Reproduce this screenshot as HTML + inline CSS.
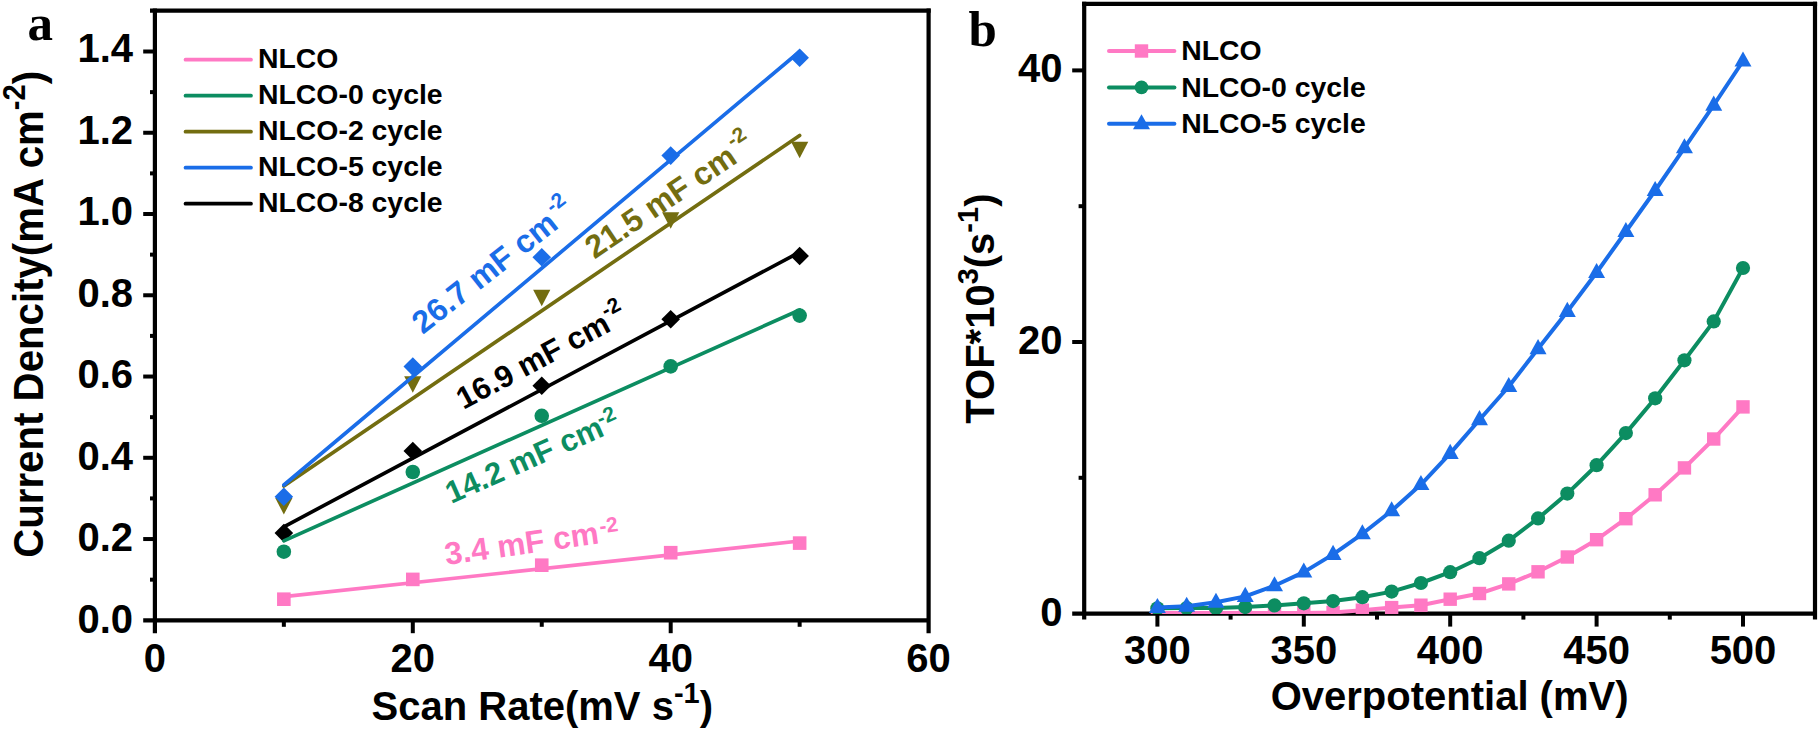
<!DOCTYPE html>
<html lang="en"><head><meta charset="utf-8"><title>ECSA and TOF figure</title>
<style>html,body{margin:0;padding:0;background:#fff}svg{display:block}</style></head><body>
<svg width="1820" height="732" viewBox="0 0 1820 732">
<rect width="1820" height="732" fill="#fff"/>
<line x1="154.90" y1="8.60" x2="154.90" y2="633.20" stroke="#000000" stroke-width="4.2" stroke-linecap="butt"/>
<line x1="928.60" y1="8.60" x2="928.60" y2="633.20" stroke="#000000" stroke-width="4.2" stroke-linecap="butt"/>
<line x1="150.00" y1="10.70" x2="930.70" y2="10.70" stroke="#000000" stroke-width="4.2" stroke-linecap="butt"/>
<line x1="143.20" y1="620.30" x2="928.60" y2="620.30" stroke="#000000" stroke-width="4.2" stroke-linecap="butt"/>
<text x="133.00" y="632.70" font-family='"Liberation Sans", Arial, Helvetica, sans-serif' font-size="40" font-weight="bold" text-anchor="end" fill="#000000" >0.0</text>
<line x1="150.00" y1="579.67" x2="154.90" y2="579.67" stroke="#000000" stroke-width="4" stroke-linecap="butt"/>
<line x1="143.20" y1="539.04" x2="154.90" y2="539.04" stroke="#000000" stroke-width="4" stroke-linecap="butt"/>
<text x="133.00" y="551.18" font-family='"Liberation Sans", Arial, Helvetica, sans-serif' font-size="40" font-weight="bold" text-anchor="end" fill="#000000" >0.2</text>
<line x1="150.00" y1="498.41" x2="154.90" y2="498.41" stroke="#000000" stroke-width="4" stroke-linecap="butt"/>
<line x1="143.20" y1="457.79" x2="154.90" y2="457.79" stroke="#000000" stroke-width="4" stroke-linecap="butt"/>
<text x="133.00" y="469.66" font-family='"Liberation Sans", Arial, Helvetica, sans-serif' font-size="40" font-weight="bold" text-anchor="end" fill="#000000" >0.4</text>
<line x1="150.00" y1="417.16" x2="154.90" y2="417.16" stroke="#000000" stroke-width="4" stroke-linecap="butt"/>
<line x1="143.20" y1="376.53" x2="154.90" y2="376.53" stroke="#000000" stroke-width="4" stroke-linecap="butt"/>
<text x="133.00" y="388.14" font-family='"Liberation Sans", Arial, Helvetica, sans-serif' font-size="40" font-weight="bold" text-anchor="end" fill="#000000" >0.6</text>
<line x1="150.00" y1="335.90" x2="154.90" y2="335.90" stroke="#000000" stroke-width="4" stroke-linecap="butt"/>
<line x1="143.20" y1="295.27" x2="154.90" y2="295.27" stroke="#000000" stroke-width="4" stroke-linecap="butt"/>
<text x="133.00" y="306.62" font-family='"Liberation Sans", Arial, Helvetica, sans-serif' font-size="40" font-weight="bold" text-anchor="end" fill="#000000" >0.8</text>
<line x1="150.00" y1="254.64" x2="154.90" y2="254.64" stroke="#000000" stroke-width="4" stroke-linecap="butt"/>
<line x1="143.20" y1="214.01" x2="154.90" y2="214.01" stroke="#000000" stroke-width="4" stroke-linecap="butt"/>
<text x="133.00" y="225.10" font-family='"Liberation Sans", Arial, Helvetica, sans-serif' font-size="40" font-weight="bold" text-anchor="end" fill="#000000" >1.0</text>
<line x1="150.00" y1="173.39" x2="154.90" y2="173.39" stroke="#000000" stroke-width="4" stroke-linecap="butt"/>
<line x1="143.20" y1="132.76" x2="154.90" y2="132.76" stroke="#000000" stroke-width="4" stroke-linecap="butt"/>
<text x="133.00" y="143.58" font-family='"Liberation Sans", Arial, Helvetica, sans-serif' font-size="40" font-weight="bold" text-anchor="end" fill="#000000" >1.2</text>
<line x1="150.00" y1="92.13" x2="154.90" y2="92.13" stroke="#000000" stroke-width="4" stroke-linecap="butt"/>
<line x1="143.20" y1="51.50" x2="154.90" y2="51.50" stroke="#000000" stroke-width="4" stroke-linecap="butt"/>
<text x="133.00" y="62.06" font-family='"Liberation Sans", Arial, Helvetica, sans-serif' font-size="40" font-weight="bold" text-anchor="end" fill="#000000" >1.4</text>
<text x="154.90" y="671.70" font-family='"Liberation Sans", Arial, Helvetica, sans-serif' font-size="40" font-weight="bold" text-anchor="middle" fill="#000000" >0</text>
<line x1="412.80" y1="620.30" x2="412.80" y2="633.20" stroke="#000000" stroke-width="4" stroke-linecap="butt"/>
<text x="412.80" y="671.70" font-family='"Liberation Sans", Arial, Helvetica, sans-serif' font-size="40" font-weight="bold" text-anchor="middle" fill="#000000" >20</text>
<line x1="670.70" y1="620.30" x2="670.70" y2="633.20" stroke="#000000" stroke-width="4" stroke-linecap="butt"/>
<text x="670.70" y="671.70" font-family='"Liberation Sans", Arial, Helvetica, sans-serif' font-size="40" font-weight="bold" text-anchor="middle" fill="#000000" >40</text>
<text x="928.60" y="671.70" font-family='"Liberation Sans", Arial, Helvetica, sans-serif' font-size="40" font-weight="bold" text-anchor="middle" fill="#000000" >60</text>
<line x1="283.85" y1="620.30" x2="283.85" y2="626.80" stroke="#000000" stroke-width="4" stroke-linecap="butt"/>
<line x1="541.75" y1="620.30" x2="541.75" y2="626.80" stroke="#000000" stroke-width="4" stroke-linecap="butt"/>
<line x1="799.65" y1="620.30" x2="799.65" y2="626.80" stroke="#000000" stroke-width="4" stroke-linecap="butt"/>
<text x="542.30" y="719.70" font-family='"Liberation Sans", Arial, Helvetica, sans-serif' font-size="40" font-weight="bold" text-anchor="middle" fill="#000000" >Scan Rate(mV s<tspan font-size="29" dy="-16.5">-1</tspan><tspan dy="16.5">)</tspan></text>
<g transform="translate(42.6,314.3) rotate(-90) scale(1.006,1.07)">
<text x="0.00" y="0.00" font-family='"Liberation Sans", Arial, Helvetica, sans-serif' font-size="40" font-weight="bold" text-anchor="middle" fill="#000000" >Current Dencity(mA cm<tspan font-size="29" dy="-16.5">-2</tspan><tspan dy="16.5">)</tspan></text>
</g>
<text x="40.20" y="40.30" font-family='"Liberation Serif", "Times New Roman", Times, serif' font-size="51" font-weight="bold" text-anchor="middle" fill="#000000" >a</text>
<rect x="277.05" y="592.40" width="13.6" height="13.6" fill="#FF79C4"/>
<rect x="406.00" y="572.60" width="13.6" height="13.6" fill="#FF79C4"/>
<rect x="534.95" y="558.40" width="13.6" height="13.6" fill="#FF79C4"/>
<rect x="663.90" y="545.90" width="13.6" height="13.6" fill="#FF79C4"/>
<rect x="792.85" y="536.30" width="13.6" height="13.6" fill="#FF79C4"/>
<circle cx="283.85" cy="551.70" r="7.30" fill="#0C8D61"/>
<circle cx="412.80" cy="472.00" r="7.30" fill="#0C8D61"/>
<circle cx="541.75" cy="415.80" r="7.30" fill="#0C8D61"/>
<circle cx="670.70" cy="366.40" r="7.30" fill="#0C8D61"/>
<circle cx="799.65" cy="315.60" r="7.30" fill="#0C8D61"/>
<polygon points="275.25,498.05 292.45,498.05 283.85,514.55" fill="#736D10"/>
<polygon points="404.20,376.15 421.40,376.15 412.80,392.65" fill="#736D10"/>
<polygon points="533.15,289.75 550.35,289.75 541.75,306.25" fill="#736D10"/>
<polygon points="662.10,212.35 679.30,212.35 670.70,228.85" fill="#736D10"/>
<polygon points="791.05,141.75 808.25,141.75 799.65,158.25" fill="#736D10"/>
<polygon points="283.85,487.40 293.15,496.70 283.85,506.00 274.55,496.70" fill="#1A6DE8"/>
<polygon points="412.80,357.30 422.10,366.60 412.80,375.90 403.50,366.60" fill="#1A6DE8"/>
<polygon points="541.75,248.00 551.05,257.30 541.75,266.60 532.45,257.30" fill="#1A6DE8"/>
<polygon points="670.70,146.30 680.00,155.60 670.70,164.90 661.40,155.60" fill="#1A6DE8"/>
<polygon points="799.65,48.40 808.95,57.70 799.65,67.00 790.35,57.70" fill="#1A6DE8"/>
<polygon points="283.85,523.80 293.15,533.10 283.85,542.40 274.55,533.10" fill="#000000"/>
<polygon points="412.80,441.70 422.10,451.00 412.80,460.30 403.50,451.00" fill="#000000"/>
<polygon points="541.75,376.40 551.05,385.70 541.75,395.00 532.45,385.70" fill="#000000"/>
<polygon points="670.70,309.90 680.00,319.20 670.70,328.50 661.40,319.20" fill="#000000"/>
<polygon points="799.65,246.70 808.95,256.00 799.65,265.30 790.35,256.00" fill="#000000"/>
<line x1="283.85" y1="596.60" x2="799.65" y2="541.00" stroke="#FF79C4" stroke-width="3.65" stroke-linecap="round"/>
<line x1="283.85" y1="540.80" x2="799.65" y2="310.00" stroke="#0C8D61" stroke-width="3.65" stroke-linecap="round"/>
<line x1="283.85" y1="486.00" x2="799.65" y2="135.50" stroke="#736D10" stroke-width="3.65" stroke-linecap="round"/>
<line x1="283.85" y1="485.00" x2="799.65" y2="51.50" stroke="#1A6DE8" stroke-width="3.65" stroke-linecap="round"/>
<line x1="283.85" y1="526.80" x2="799.65" y2="252.20" stroke="#000000" stroke-width="3.65" stroke-linecap="round"/>
<g transform="translate(422.8,335.0) rotate(-38.2)">
<text x="0.00" y="0.00" font-family='"Liberation Sans", Arial, Helvetica, sans-serif' font-size="32" font-weight="bold" text-anchor="start" fill="#1A6DE8" >26.7 mF cm<tspan dx="2.5" dy="-15" font-size="21">-2</tspan></text>
</g>
<g transform="translate(594.5,259.5) rotate(-34.1)">
<text x="0.00" y="0.00" font-family='"Liberation Sans", Arial, Helvetica, sans-serif' font-size="32" font-weight="bold" text-anchor="start" fill="#736D10" >21.5 mF cm<tspan dx="2.5" dy="-15" font-size="21">-2</tspan></text>
</g>
<g transform="translate(463.5,410.0) rotate(-28.2)">
<text x="0.00" y="0.00" font-family='"Liberation Sans", Arial, Helvetica, sans-serif' font-size="31" font-weight="bold" text-anchor="start" fill="#000000" >16.9 mF cm<tspan dx="0" dy="-14" font-size="21">-2</tspan></text>
</g>
<g transform="translate(451.3,504.0) rotate(-24.0)">
<text x="0.00" y="0.00" font-family='"Liberation Sans", Arial, Helvetica, sans-serif' font-size="31" font-weight="bold" text-anchor="start" fill="#0C8D61" >14.2 mF cm<tspan dx="-1" dy="-10.6" font-size="21">-2</tspan></text>
</g>
<g transform="translate(446.3,565.0) rotate(-8.0)">
<text x="0.00" y="0.00" font-family='"Liberation Sans", Arial, Helvetica, sans-serif' font-size="31.7" font-weight="bold" text-anchor="start" fill="#FF79C4" >3.4 mF cm<tspan dx="1.8" dy="-9.8" font-size="21">-2</tspan></text>
</g>
<line x1="185.50" y1="59.70" x2="251.00" y2="59.70" stroke="#FF79C4" stroke-width="3.7" stroke-linecap="round"/>
<text x="258.00" y="67.60" font-family='"Liberation Sans", Arial, Helvetica, sans-serif' font-size="28.4" font-weight="bold" text-anchor="start" fill="#000000" >NLCO</text>
<line x1="185.50" y1="95.70" x2="251.00" y2="95.70" stroke="#0C8D61" stroke-width="3.7" stroke-linecap="round"/>
<text x="258.00" y="103.60" font-family='"Liberation Sans", Arial, Helvetica, sans-serif' font-size="28.4" font-weight="bold" text-anchor="start" fill="#000000" >NLCO-0 cycle</text>
<line x1="185.50" y1="131.70" x2="251.00" y2="131.70" stroke="#736D10" stroke-width="3.7" stroke-linecap="round"/>
<text x="258.00" y="139.60" font-family='"Liberation Sans", Arial, Helvetica, sans-serif' font-size="28.4" font-weight="bold" text-anchor="start" fill="#000000" >NLCO-2 cycle</text>
<line x1="185.50" y1="167.70" x2="251.00" y2="167.70" stroke="#1A6DE8" stroke-width="3.7" stroke-linecap="round"/>
<text x="258.00" y="175.60" font-family='"Liberation Sans", Arial, Helvetica, sans-serif' font-size="28.4" font-weight="bold" text-anchor="start" fill="#000000" >NLCO-5 cycle</text>
<line x1="185.50" y1="203.70" x2="251.00" y2="203.70" stroke="#000000" stroke-width="3.7" stroke-linecap="round"/>
<text x="258.00" y="211.60" font-family='"Liberation Sans", Arial, Helvetica, sans-serif' font-size="28.4" font-weight="bold" text-anchor="start" fill="#000000" >NLCO-8 cycle</text>
<line x1="1084.20" y1="1.70" x2="1084.20" y2="619.60" stroke="#000000" stroke-width="4.2" stroke-linecap="butt"/>
<line x1="1815.00" y1="1.70" x2="1815.00" y2="619.60" stroke="#000000" stroke-width="4.2" stroke-linecap="butt"/>
<line x1="1082.10" y1="3.80" x2="1817.10" y2="3.80" stroke="#000000" stroke-width="4.2" stroke-linecap="butt"/>
<line x1="1072.20" y1="613.60" x2="1815.00" y2="613.60" stroke="#000000" stroke-width="4.2" stroke-linecap="butt"/>
<line x1="1072.20" y1="342.00" x2="1084.20" y2="342.00" stroke="#000000" stroke-width="4" stroke-linecap="butt"/>
<line x1="1072.20" y1="70.40" x2="1084.20" y2="70.40" stroke="#000000" stroke-width="4" stroke-linecap="butt"/>
<line x1="1078.60" y1="477.80" x2="1084.20" y2="477.80" stroke="#000000" stroke-width="4" stroke-linecap="butt"/>
<line x1="1078.60" y1="206.20" x2="1084.20" y2="206.20" stroke="#000000" stroke-width="4" stroke-linecap="butt"/>
<text x="1062.60" y="625.50" font-family='"Liberation Sans", Arial, Helvetica, sans-serif' font-size="40" font-weight="bold" text-anchor="end" fill="#000000" >0</text>
<text x="1062.60" y="353.90" font-family='"Liberation Sans", Arial, Helvetica, sans-serif' font-size="40" font-weight="bold" text-anchor="end" fill="#000000" >20</text>
<text x="1062.60" y="82.30" font-family='"Liberation Sans", Arial, Helvetica, sans-serif' font-size="40" font-weight="bold" text-anchor="end" fill="#000000" >40</text>
<line x1="1157.40" y1="613.60" x2="1157.40" y2="626.60" stroke="#000000" stroke-width="4" stroke-linecap="butt"/>
<text x="1157.40" y="663.80" font-family='"Liberation Sans", Arial, Helvetica, sans-serif' font-size="40" font-weight="bold" text-anchor="middle" fill="#000000" >300</text>
<line x1="1303.80" y1="613.60" x2="1303.80" y2="626.60" stroke="#000000" stroke-width="4" stroke-linecap="butt"/>
<text x="1303.80" y="663.80" font-family='"Liberation Sans", Arial, Helvetica, sans-serif' font-size="40" font-weight="bold" text-anchor="middle" fill="#000000" >350</text>
<line x1="1450.20" y1="613.60" x2="1450.20" y2="626.60" stroke="#000000" stroke-width="4" stroke-linecap="butt"/>
<text x="1450.20" y="663.80" font-family='"Liberation Sans", Arial, Helvetica, sans-serif' font-size="40" font-weight="bold" text-anchor="middle" fill="#000000" >400</text>
<line x1="1596.60" y1="613.60" x2="1596.60" y2="626.60" stroke="#000000" stroke-width="4" stroke-linecap="butt"/>
<text x="1596.60" y="663.80" font-family='"Liberation Sans", Arial, Helvetica, sans-serif' font-size="40" font-weight="bold" text-anchor="middle" fill="#000000" >450</text>
<line x1="1743.00" y1="613.60" x2="1743.00" y2="626.60" stroke="#000000" stroke-width="4" stroke-linecap="butt"/>
<text x="1743.00" y="663.80" font-family='"Liberation Sans", Arial, Helvetica, sans-serif' font-size="40" font-weight="bold" text-anchor="middle" fill="#000000" >500</text>
<line x1="1230.60" y1="613.60" x2="1230.60" y2="619.60" stroke="#000000" stroke-width="4" stroke-linecap="butt"/>
<line x1="1377.00" y1="613.60" x2="1377.00" y2="619.60" stroke="#000000" stroke-width="4" stroke-linecap="butt"/>
<line x1="1523.40" y1="613.60" x2="1523.40" y2="619.60" stroke="#000000" stroke-width="4" stroke-linecap="butt"/>
<line x1="1669.80" y1="613.60" x2="1669.80" y2="619.60" stroke="#000000" stroke-width="4" stroke-linecap="butt"/>
<text x="1449.60" y="710.00" font-family='"Liberation Sans", Arial, Helvetica, sans-serif' font-size="40" font-weight="bold" text-anchor="middle" fill="#000000" >Overpotential (mV)</text>
<g transform="translate(994.0,308.6) rotate(-90)">
<text x="0.00" y="0.00" font-family='"Liberation Sans", Arial, Helvetica, sans-serif' font-size="40" font-weight="bold" text-anchor="middle" fill="#000000" >TOF*10<tspan font-size="29" dy="-16.5">3</tspan><tspan dy="16.5">(s</tspan><tspan font-size="29" dy="-16.5">-1</tspan><tspan dy="16.5">)</tspan></text>
</g>
<text x="982.60" y="46.00" font-family='"Liberation Serif", "Times New Roman", Times, serif' font-size="51" font-weight="bold" text-anchor="middle" fill="#000000" >b</text>
<clipPath id="clipb"><rect x="1084.2" y="3.8" width="730.8" height="610.1"/></clipPath>
<g clip-path="url(#clipb)">
<polyline points="1157.40,612.90 1186.68,612.90 1215.96,612.90 1245.24,612.90 1274.52,612.90 1303.80,612.90 1333.08,612.50 1362.36,610.20 1391.64,607.60 1420.92,605.20 1450.20,599.20 1479.48,593.50 1508.76,583.90 1538.04,571.80 1567.32,557.00 1596.60,539.70 1625.88,518.70 1655.16,494.80 1684.44,467.90 1713.72,439.00 1743.00,406.90" fill="none" stroke="#FF79C4" stroke-width="4.0" stroke-linejoin="round" stroke-linecap="round"/>
<rect x="1150.70" y="606.20" width="13.4" height="13.4" fill="#FF79C4"/>
<rect x="1179.98" y="606.20" width="13.4" height="13.4" fill="#FF79C4"/>
<rect x="1209.26" y="606.20" width="13.4" height="13.4" fill="#FF79C4"/>
<rect x="1238.54" y="606.20" width="13.4" height="13.4" fill="#FF79C4"/>
<rect x="1267.82" y="606.20" width="13.4" height="13.4" fill="#FF79C4"/>
<rect x="1297.10" y="606.20" width="13.4" height="13.4" fill="#FF79C4"/>
<rect x="1326.38" y="605.80" width="13.4" height="13.4" fill="#FF79C4"/>
<rect x="1355.66" y="603.50" width="13.4" height="13.4" fill="#FF79C4"/>
<rect x="1384.94" y="600.90" width="13.4" height="13.4" fill="#FF79C4"/>
<rect x="1414.22" y="598.50" width="13.4" height="13.4" fill="#FF79C4"/>
<rect x="1443.50" y="592.50" width="13.4" height="13.4" fill="#FF79C4"/>
<rect x="1472.78" y="586.80" width="13.4" height="13.4" fill="#FF79C4"/>
<rect x="1502.06" y="577.20" width="13.4" height="13.4" fill="#FF79C4"/>
<rect x="1531.34" y="565.10" width="13.4" height="13.4" fill="#FF79C4"/>
<rect x="1560.62" y="550.30" width="13.4" height="13.4" fill="#FF79C4"/>
<rect x="1589.90" y="533.00" width="13.4" height="13.4" fill="#FF79C4"/>
<rect x="1619.18" y="512.00" width="13.4" height="13.4" fill="#FF79C4"/>
<rect x="1648.46" y="488.10" width="13.4" height="13.4" fill="#FF79C4"/>
<rect x="1677.74" y="461.20" width="13.4" height="13.4" fill="#FF79C4"/>
<rect x="1707.02" y="432.30" width="13.4" height="13.4" fill="#FF79C4"/>
<rect x="1736.30" y="400.20" width="13.4" height="13.4" fill="#FF79C4"/>
<polyline points="1157.40,608.30 1186.68,608.10 1215.96,607.90 1245.24,607.00 1274.52,605.40 1303.80,603.30 1333.08,601.10 1362.36,597.20 1391.64,591.60 1420.92,583.00 1450.20,572.20 1479.48,558.20 1508.76,540.70 1538.04,518.40 1567.32,493.60 1596.60,465.20 1625.88,433.10 1655.16,398.30 1684.44,360.30 1713.72,321.40 1743.00,268.00" fill="none" stroke="#0C8D61" stroke-width="4.0" stroke-linejoin="round" stroke-linecap="round"/>
<circle cx="1157.40" cy="608.30" r="7.10" fill="#0C8D61"/>
<circle cx="1186.68" cy="608.10" r="7.10" fill="#0C8D61"/>
<circle cx="1215.96" cy="607.90" r="7.10" fill="#0C8D61"/>
<circle cx="1245.24" cy="607.00" r="7.10" fill="#0C8D61"/>
<circle cx="1274.52" cy="605.40" r="7.10" fill="#0C8D61"/>
<circle cx="1303.80" cy="603.30" r="7.10" fill="#0C8D61"/>
<circle cx="1333.08" cy="601.10" r="7.10" fill="#0C8D61"/>
<circle cx="1362.36" cy="597.20" r="7.10" fill="#0C8D61"/>
<circle cx="1391.64" cy="591.60" r="7.10" fill="#0C8D61"/>
<circle cx="1420.92" cy="583.00" r="7.10" fill="#0C8D61"/>
<circle cx="1450.20" cy="572.20" r="7.10" fill="#0C8D61"/>
<circle cx="1479.48" cy="558.20" r="7.10" fill="#0C8D61"/>
<circle cx="1508.76" cy="540.70" r="7.10" fill="#0C8D61"/>
<circle cx="1538.04" cy="518.40" r="7.10" fill="#0C8D61"/>
<circle cx="1567.32" cy="493.60" r="7.10" fill="#0C8D61"/>
<circle cx="1596.60" cy="465.20" r="7.10" fill="#0C8D61"/>
<circle cx="1625.88" cy="433.10" r="7.10" fill="#0C8D61"/>
<circle cx="1655.16" cy="398.30" r="7.10" fill="#0C8D61"/>
<circle cx="1684.44" cy="360.30" r="7.10" fill="#0C8D61"/>
<circle cx="1713.72" cy="321.40" r="7.10" fill="#0C8D61"/>
<circle cx="1743.00" cy="268.00" r="7.10" fill="#0C8D61"/>
<polyline points="1157.40,607.60 1186.68,606.30 1215.96,602.30 1245.24,596.40 1274.52,585.80 1303.80,572.10 1333.08,554.40 1362.36,533.80 1391.64,510.80 1420.92,484.60 1450.20,453.40 1479.48,419.70 1508.76,386.50 1538.04,348.70 1567.32,311.40 1596.60,272.50 1625.88,231.50 1655.16,190.50 1684.44,147.80 1713.72,105.20 1743.00,61.00" fill="none" stroke="#1A6DE8" stroke-width="4.0" stroke-linejoin="round" stroke-linecap="round"/>
<polygon points="1157.40,598.00 1165.90,613.10 1148.90,613.10" fill="#1A6DE8"/>
<polygon points="1186.68,596.70 1195.18,611.80 1178.18,611.80" fill="#1A6DE8"/>
<polygon points="1215.96,592.70 1224.46,607.80 1207.46,607.80" fill="#1A6DE8"/>
<polygon points="1245.24,586.80 1253.74,601.90 1236.74,601.90" fill="#1A6DE8"/>
<polygon points="1274.52,576.20 1283.02,591.30 1266.02,591.30" fill="#1A6DE8"/>
<polygon points="1303.80,562.50 1312.30,577.60 1295.30,577.60" fill="#1A6DE8"/>
<polygon points="1333.08,544.80 1341.58,559.90 1324.58,559.90" fill="#1A6DE8"/>
<polygon points="1362.36,524.20 1370.86,539.30 1353.86,539.30" fill="#1A6DE8"/>
<polygon points="1391.64,501.20 1400.14,516.30 1383.14,516.30" fill="#1A6DE8"/>
<polygon points="1420.92,475.00 1429.42,490.10 1412.42,490.10" fill="#1A6DE8"/>
<polygon points="1450.20,443.80 1458.70,458.90 1441.70,458.90" fill="#1A6DE8"/>
<polygon points="1479.48,410.10 1487.98,425.20 1470.98,425.20" fill="#1A6DE8"/>
<polygon points="1508.76,376.90 1517.26,392.00 1500.26,392.00" fill="#1A6DE8"/>
<polygon points="1538.04,339.10 1546.54,354.20 1529.54,354.20" fill="#1A6DE8"/>
<polygon points="1567.32,301.80 1575.82,316.90 1558.82,316.90" fill="#1A6DE8"/>
<polygon points="1596.60,262.90 1605.10,278.00 1588.10,278.00" fill="#1A6DE8"/>
<polygon points="1625.88,221.90 1634.38,237.00 1617.38,237.00" fill="#1A6DE8"/>
<polygon points="1655.16,180.90 1663.66,196.00 1646.66,196.00" fill="#1A6DE8"/>
<polygon points="1684.44,138.20 1692.94,153.30 1675.94,153.30" fill="#1A6DE8"/>
<polygon points="1713.72,95.60 1722.22,110.70 1705.22,110.70" fill="#1A6DE8"/>
<polygon points="1743.00,51.40 1751.50,66.50 1734.50,66.50" fill="#1A6DE8"/>
</g>
<line x1="1109.00" y1="51.00" x2="1174.40" y2="51.00" stroke="#FF79C4" stroke-width="4" stroke-linecap="round"/>
<rect x="1134.80" y="44.30" width="13.4" height="13.4" fill="#FF79C4"/>
<text x="1181.20" y="60.30" font-family='"Liberation Sans", Arial, Helvetica, sans-serif' font-size="28.4" font-weight="bold" text-anchor="start" fill="#000000" >NLCO</text>
<line x1="1109.00" y1="87.40" x2="1174.40" y2="87.40" stroke="#0C8D61" stroke-width="4" stroke-linecap="round"/>
<circle cx="1141.50" cy="87.40" r="6.80" fill="#0C8D61"/>
<text x="1181.20" y="96.70" font-family='"Liberation Sans", Arial, Helvetica, sans-serif' font-size="28.4" font-weight="bold" text-anchor="start" fill="#000000" >NLCO-0 cycle</text>
<line x1="1109.00" y1="123.80" x2="1174.40" y2="123.80" stroke="#1A6DE8" stroke-width="4" stroke-linecap="round"/>
<polygon points="1141.50,114.20 1150.00,129.30 1133.00,129.30" fill="#1A6DE8"/>
<text x="1181.20" y="133.10" font-family='"Liberation Sans", Arial, Helvetica, sans-serif' font-size="28.4" font-weight="bold" text-anchor="start" fill="#000000" >NLCO-5 cycle</text>
</svg></body></html>
